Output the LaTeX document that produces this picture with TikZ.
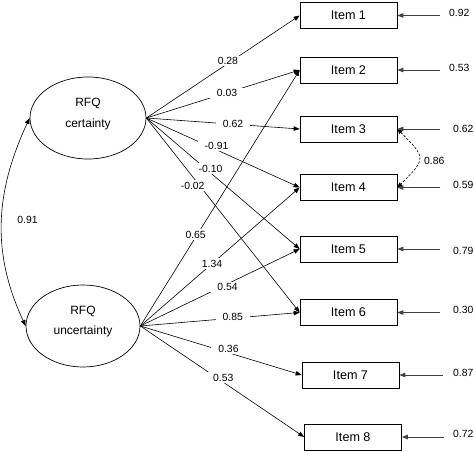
\documentclass[tikz,border=0pt]{standalone}
\usepackage{fontspec}
\setmainfont{Liberation Sans}
\usetikzlibrary{arrows.meta,shapes.geometric}
\begin{document}
\begin{tikzpicture}[x=1pt,y=1pt,
 itembox/.style={draw, line width=0.7pt, minimum width=97pt, minimum height=26pt, inner sep=0pt, font=\fontsize{12.6}{14}\selectfont},
 latent/.style={draw, ellipse, line width=0.7pt, inner sep=0pt},
 ltext/.style={align=center, font=\fontsize{12}{20.5}\selectfont, inner sep=0pt},
 arr/.style={line width=0.6pt, -{Triangle[length=6pt,width=4.5pt]}},
 errarr/.style={line width=0.9pt, black!75, -{Triangle[length=6pt,width=4.5pt]}},
 coef/.style={font=\fontsize{10.4}{12}\selectfont, fill=white, inner xsep=7pt, inner ysep=1.5pt},
 errlab/.style={font=\fontsize{10.4}{12}\selectfont, anchor=west, inner sep=0pt},
]
\useasboundingbox (0,0) rectangle (474,451);
% latent variables
\node[latent, minimum width=116pt, minimum height=82pt] (cert) at (88,333) {};
\node[ltext] (certtxt) at (88,337) {RFQ\\certainty};
\node[latent, minimum width=114pt, minimum height=82pt] (unc) at (83,125) {};
\node[ltext] (unctxt) at (83,129.5) {RFQ\\uncertainty};
% items
\node[itembox] (i1) at (348.5,435.5) {Item 1};
\node[itembox] (i2) at (348.5,381) {Item 2};
\node[itembox] (i3) at (348.5,322) {Item 3};
\node[itembox] (i4) at (348.5,263.5) {Item 4};
\node[itembox] (i5) at (348.5,202) {Item 5};
\node[itembox] (i6) at (348.5,138.5) {Item 6};
\node[itembox] (i7) at (350.5,76) {Item 7};
\node[itembox] (i8) at (353,14) {Item 8};
% error terms
\coordinate (e1) at (440,435.5);
\coordinate (e2) at (440,381);
\coordinate (e3) at (440,322);
\coordinate (e4) at (440,263.5);
\coordinate (e5) at (440,202);
\coordinate (e6) at (440,138.5);
\coordinate (e7) at (443,76);
\coordinate (e8) at (444,14);
\draw[errarr] (e1) -- (i1.east);
\draw[errarr] (e2) -- (i2.east);
\draw[errarr] (e3) -- (i3.east);
\draw[errarr] (e4) -- (i4.east);
\draw[errarr] (e5) -- (i5.east);
\draw[errarr] (e6) -- (i6.east);
\draw[errarr] (e7) -- (i7.east);
\draw[errarr] (e8) -- (i8.east);
\node[errlab] (l1) at (449,438) {0.92};
\node[errlab] (l2) at (449,383) {0.53};
\node[errlab] (l3) at (453,322) {0.62};
\node[errlab] (l4) at (453,266) {0.59};
\node[errlab] (l5) at (453,200) {0.79};
\node[errlab] (l6) at (453,141) {0.30};
\node[errlab] (l7) at (453,78) {0.87};
\node[errlab] (l8) at (453,17) {0.72};
% loadings certainty
\draw[arr] (cert.east) -- node[coef, pos=0.532, yshift=2.4pt] {0.28} (i1.west);
\draw[arr] (cert.east) -- node[coef, pos=0.526] {0.03} (i2.west);
\draw[arr] (cert.east) -- node[coef, pos=0.565] {0.62} (i3.west);
\draw[arr] (cert.east) -- node[coef, pos=0.458, yshift=3.8pt] {-0.91} (i4.west);
\draw[arr] (cert.east) -- node[coef, pos=0.419, yshift=4.4pt] {-0.10} (i5.west);
\draw[arr] (cert.east) -- node[coef, pos=0.302, yshift=-8.9pt] {-0.02} (i6.west);
% loadings uncertainty
\draw[arr] (unc.east) -- node[coef, pos=0.347, yshift=2.7pt] {0.65} (i2.west);
\draw[arr] (unc.east) -- node[coef, pos=0.45] {1.34} (i4.west);
\draw[arr] (unc.east) -- node[coef, pos=0.547, yshift=-3pt] {0.54} (i5.west);
\draw[arr] (unc.east) -- node[coef, pos=0.58, yshift=1pt] {0.85} (i6.west);
\draw[arr] (unc.east) -- node[coef, pos=0.546, yshift=3.7pt] {0.36} (i7.west);
\draw[arr] (unc.east) -- node[coef, pos=0.506, yshift=4.7pt] {0.53} (i8.west);
% correlations
\draw[line width=0.6pt, {Triangle[length=6pt,width=4.5pt]}-{Triangle[length=6pt,width=4.5pt]}]
  (cert.west) to[out=245, in=115] (unc.west);
\node[font=\fontsize{10.4}{12}\selectfont, inner sep=0pt] (r91) at (27.5,231) {0.91};
\draw[line width=0.6pt, dash pattern=on 2.5pt off 1.5pt, {Triangle[length=5pt,width=4pt]}-{Triangle[length=5pt,width=4pt]}]
  (i3.east) to[out=-45, in=45, looseness=1.8] (i4.east);
\node[errlab] (r86) at (424,290) {0.86};
\end{tikzpicture}
\end{document}
